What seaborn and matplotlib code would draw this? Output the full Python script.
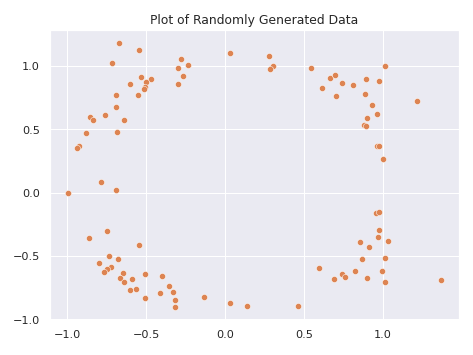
import matplotlib
matplotlib.use("Agg")
import matplotlib.pyplot as plt
import seaborn as sns
import pandas as pd

# Values
x_vals = [
    # upper left
    -0.673, -0.543, -0.715, 0.032, -0.278, -0.231, -0.295, -0.263, -0.295,
    -0.532, -0.467, -0.500, -0.505, -0.510, -0.601, -0.551, -0.690, -0.690,
    -0.761, -0.639, -0.856, -0.835, -0.879, -0.686, -0.921, -0.936,
    -0.784, -0.690, -0.991,
    # upper right
    0.280, 0.305, 0.284, 0.547, 1.014, 0.665, 0.698, 0.740, 0.612, 0.808,
    0.894, 0.976, 0.702, 0.888, 0.930, 1.216, 0.963, 0.898, 0.881, 0.894,
    0.959, 0.974, 1.001,
    # lower left
    -0.747, -0.858, -0.543, -0.732, -0.680, -0.800, -0.719, -0.744, -0.765,
    -0.645, -0.503, -0.397, -0.662, -0.589, -0.639, -0.355, -0.604, -0.566,
    -0.328, -0.412, -0.505, -0.314, -0.314, -0.130, 0.032, 0.139,
    # lower right
    0.459, 0.597, 0.688, 0.740, 0.757, 0.825, 0.900, 0.864, 0.852, 0.913,
    0.970, 0.974, 0.957, 0.974, 1.032, 1.010, 0.991, 1.014, 1.365,
]
y_vals = [
    # upper left
    1.181, 1.128, 1.026, 1.100, 1.053, 1.005, 0.987, 0.924, 0.856,
    0.913, 0.900, 0.872, 0.835, 0.818, 0.856, 0.769, 0.769, 0.675,
    0.617, 0.577, 0.598, 0.577, 0.470, 0.483, 0.365, 0.354,
    0.087, 0.021, 0.000,
    # upper right
    1.076, 1.003, 0.976, 0.984, 1.003, 0.908, 0.927, 0.869, 0.827, 0.850,
    0.895, 0.884, 0.764, 0.780, 0.695, 0.722, 0.620, 0.588, 0.535, 0.530,
    0.372, 0.372, 0.270,
    # lower left
    -0.302, -0.356, -0.415, -0.499, -0.525, -0.559, -0.588, -0.606, -0.625,
    -0.635, -0.640, -0.659, -0.675, -0.685, -0.709, -0.735, -0.766, -0.758,
    -0.782, -0.795, -0.832, -0.850, -0.900, -0.821, -0.874, -0.892,
    # lower right
    -0.892, -0.593, -0.680, -0.640, -0.669, -0.617, -0.675, -0.525, -0.386, -0.425,
    -0.349, -0.291, -0.160, -0.155, -0.381, -0.512, -0.617, -0.709, -0.693,
]

title = "Plot of Randomly Generated Data"

sns.set_theme(style="darkgrid")
df = pd.DataFrame({"x": x_vals, "y": y_vals})

fig, ax = plt.subplots(figsize=(6.4, 4.8), dpi=74)
sns.scatterplot(data=df, x="x", y="y", color=sns.color_palette()[1], ax=ax)
ax.set_title(title)
ax.set_xlabel("")
ax.set_ylabel("")
fig.subplots_adjust(left=0.105, right=0.970, top=0.915, bottom=0.099)
fig.savefig("out.png", dpi=74)
